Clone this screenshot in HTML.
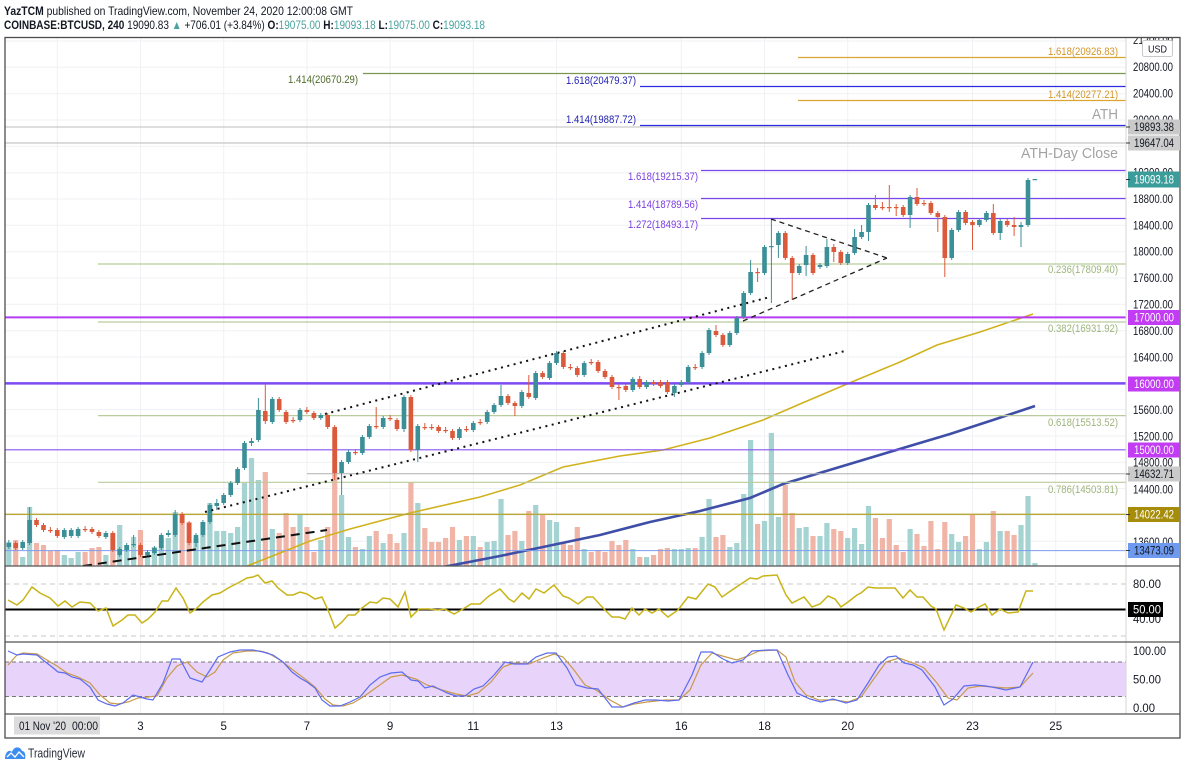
<!DOCTYPE html>
<html><head><meta charset="utf-8">
<style>
html,body{margin:0;padding:0;background:#fff;width:1185px;height:768px;overflow:hidden}
svg{display:block}
text{font-family:"Liberation Sans",Arial,sans-serif}
</style></head>
<body>
<svg id="s" width="1185" height="768" viewBox="0 0 1185 768" xmlns="http://www.w3.org/2000/svg">
<defs>
<clipPath id="cm"><rect x="5" y="37" width="1121" height="529"/></clipPath>
<clipPath id="cax"><rect x="1126" y="38" width="54" height="528"/></clipPath>
</defs>
<rect width="1185" height="768" fill="#fff"/>

<!-- header -->
<text x="4" y="15" font-size="12" fill="#131722" textLength="349" lengthAdjust="spacingAndGlyphs"><tspan font-weight="bold">YazTCM</tspan> published on TradingView.com, November 24, 2020 12:00:08 GMT</text>
<text x="4" y="29" font-size="12" fill="#131722" textLength="481" lengthAdjust="spacingAndGlyphs"><tspan font-weight="bold">COINBASE:BTCUSD, 240</tspan> 19090.83 <tspan fill="#4aa3a0">▲</tspan> +706.01 (+3.84%) <tspan font-weight="bold">O:</tspan><tspan fill="#4aa3a0">19075.00</tspan> <tspan font-weight="bold">H:</tspan><tspan fill="#4aa3a0">19093.18</tspan> <tspan font-weight="bold">L:</tspan><tspan fill="#4aa3a0">19075.00</tspan> <tspan font-weight="bold">C:</tspan><tspan fill="#4aa3a0">19093.18</tspan></text>

<!-- grid -->
<g stroke="#eff1f4" stroke-width="1">
<line x1="57.3" y1="37" x2="57.3" y2="714"/><line x1="140.5" y1="37" x2="140.5" y2="714"/><line x1="223.7" y1="37" x2="223.7" y2="714"/><line x1="306.9" y1="37" x2="306.9" y2="714"/><line x1="390.1" y1="37" x2="390.1" y2="714"/><line x1="473.3" y1="37" x2="473.3" y2="714"/><line x1="556.5" y1="37" x2="556.5" y2="714"/><line x1="681.3" y1="37" x2="681.3" y2="714"/><line x1="764.5" y1="37" x2="764.5" y2="714"/><line x1="847.7" y1="37" x2="847.7" y2="714"/><line x1="972.5" y1="37" x2="972.5" y2="714"/><line x1="1055.7" y1="37" x2="1055.7" y2="714"/>
<line x1="5" y1="41" x2="1126" y2="41"/><line x1="5" y1="67.3" x2="1126" y2="67.3"/><line x1="5" y1="93.7" x2="1126" y2="93.7"/><line x1="5" y1="120" x2="1126" y2="120"/><line x1="5" y1="146.3" x2="1126" y2="146.3"/><line x1="5" y1="172.7" x2="1126" y2="172.7"/><line x1="5" y1="199" x2="1126" y2="199"/><line x1="5" y1="225.3" x2="1126" y2="225.3"/><line x1="5" y1="251.7" x2="1126" y2="251.7"/><line x1="5" y1="278" x2="1126" y2="278"/><line x1="5" y1="304.3" x2="1126" y2="304.3"/><line x1="5" y1="330.7" x2="1126" y2="330.7"/><line x1="5" y1="357" x2="1126" y2="357"/><line x1="5" y1="383.3" x2="1126" y2="383.3"/><line x1="5" y1="409.6" x2="1126" y2="409.6"/><line x1="5" y1="436" x2="1126" y2="436"/><line x1="5" y1="462.3" x2="1126" y2="462.3"/><line x1="5" y1="488.6" x2="1126" y2="488.6"/><line x1="5" y1="515" x2="1126" y2="515"/><line x1="5" y1="541.3" x2="1126" y2="541.3"/>
</g>

<!-- volume -->
<g id="vol" clip-path="url(#cm)"></g>

<!-- moving averages -->
<g clip-path="url(#cm)" fill="none">
<polyline stroke="#d1b21c" stroke-width="1.6" points="247,566 280,553 310,541 350,529 410,513 480,497 520,485 563,467 620,456 663,450 710,438 763,420 800,404 847,384 900,362 937,345 980,332 1033,314"/>
<polyline stroke="#3f4ea6" stroke-width="2.6" points="443,567 500,556 543,547 600,535 650,522 700,511 750,498 783,484 833,469 893,451 950,434 993,420 1035,406"/>
</g>

<!-- horizontal levels -->
<g fill="none">
<line x1="5" y1="127" x2="1126" y2="127" stroke="#bdbdbd" stroke-width="1"/>
<line x1="5" y1="143" x2="1126" y2="143" stroke="#cfcfcf" stroke-width="1.5"/>
<line x1="5" y1="317.4" x2="1126" y2="317.4" stroke="#b43cf2" stroke-width="2"/>
<line x1="5" y1="383.4" x2="1126" y2="383.4" stroke="#7c4af2" stroke-width="2.5"/>
<line x1="5" y1="449.8" x2="1126" y2="449.8" stroke="#8a55f2" stroke-width="1.2"/>
<line x1="307" y1="473.7" x2="1126" y2="473.7" stroke="#b0b0b0" stroke-width="1"/>
<line x1="5" y1="514.3" x2="1126" y2="514.3" stroke="#b9a634" stroke-width="1.3"/>
<line x1="5" y1="550.6" x2="1126" y2="550.6" stroke="#7e9cf0" stroke-width="1"/>
<!-- fibs -->
<line x1="798" y1="57.5" x2="1126" y2="57.5" stroke="#dca432" stroke-width="1.2"/>
<line x1="363" y1="73.5" x2="1126" y2="73.5" stroke="#7b9650" stroke-width="1.2"/>
<line x1="640" y1="86.5" x2="1126" y2="86.5" stroke="#2a2ae0" stroke-width="1.2"/>
<line x1="798" y1="100.5" x2="1126" y2="100.5" stroke="#dca432" stroke-width="1.2"/>
<line x1="640" y1="125.5" x2="1126" y2="125.5" stroke="#2a2ae0" stroke-width="1.2"/>
<line x1="701" y1="170.5" x2="1126" y2="170.5" stroke="#7b44ee" stroke-width="1.2"/>
<line x1="701" y1="198.5" x2="1126" y2="198.5" stroke="#7b44ee" stroke-width="1.2"/>
<line x1="701" y1="218.5" x2="1126" y2="218.5" stroke="#7b44ee" stroke-width="1.2"/>
<line x1="98" y1="264" x2="1126" y2="264" stroke="#b9cc9c" stroke-width="1.2"/>
<line x1="98" y1="322" x2="1126" y2="322" stroke="#b9cc9c" stroke-width="1.2"/>
<line x1="98" y1="415.6" x2="1126" y2="415.6" stroke="#b9cc9c" stroke-width="1.2"/>
<line x1="98" y1="482.3" x2="1126" y2="482.3" stroke="#b9cc9c" stroke-width="1.2"/>
</g>

<!-- candles -->
<g id="candles" clip-path="url(#cm)"></g>

<!-- trend lines -->
<g fill="none" clip-path="url(#cm)">
<line x1="83" y1="566" x2="327" y2="530" stroke="#111" stroke-width="2" stroke-dasharray="9,6"/>
<line x1="325" y1="414" x2="770" y2="297" stroke="#111" stroke-width="2" stroke-dasharray="2,4.5"/>
<line x1="205" y1="512" x2="845" y2="351" stroke="#111" stroke-width="2" stroke-dasharray="2,4.5"/>
<line x1="771" y1="219" x2="887" y2="258" stroke="#222" stroke-width="1.3" stroke-dasharray="5,4"/>
<line x1="743" y1="321" x2="887" y2="258" stroke="#222" stroke-width="1.3" stroke-dasharray="5,4"/>
</g>

<!-- fib labels -->
<g font-size="11">
<text x="1048" y="55" fill="#d4952a" textLength="70" lengthAdjust="spacingAndGlyphs">1.618(20926.83)</text>
<text x="288" y="83" fill="#4f6b2a" textLength="70" lengthAdjust="spacingAndGlyphs">1.414(20670.29)</text>
<text x="566" y="84" fill="#1e1eb0" textLength="70" lengthAdjust="spacingAndGlyphs">1.618(20479.37)</text>
<text x="1048" y="98" fill="#d4952a" textLength="70" lengthAdjust="spacingAndGlyphs">1.414(20277.21)</text>
<text x="566" y="123" fill="#1e1eb0" textLength="70" lengthAdjust="spacingAndGlyphs">1.414(19887.72)</text>
<text x="628" y="180" fill="#7a3ee0" textLength="70" lengthAdjust="spacingAndGlyphs">1.618(19215.37)</text>
<text x="628" y="208" fill="#7a3ee0" textLength="70" lengthAdjust="spacingAndGlyphs">1.414(18789.56)</text>
<text x="628" y="228" fill="#7a3ee0" textLength="70" lengthAdjust="spacingAndGlyphs">1.272(18493.17)</text>
<text x="1048" y="273" fill="#9db57c" textLength="70" lengthAdjust="spacingAndGlyphs">0.236(17809.40)</text>
<text x="1048" y="332" fill="#9db57c" textLength="70" lengthAdjust="spacingAndGlyphs">0.382(16931.92)</text>
<text x="1048" y="426" fill="#9db57c" textLength="70" lengthAdjust="spacingAndGlyphs">0.618(15513.52)</text>
<text x="1048" y="493" fill="#9db57c" textLength="70" lengthAdjust="spacingAndGlyphs">0.786(14503.81)</text>
</g>
<text x="1092" y="119" font-size="15" fill="#a3a3a3" textLength="26" lengthAdjust="spacingAndGlyphs">ATH</text>
<text x="1021" y="158" font-size="15" fill="#a3a3a3" textLength="97" lengthAdjust="spacingAndGlyphs">ATH-Day Close</text>

<!-- RSI pane -->
<g fill="none">
<line x1="5" y1="584" x2="1126" y2="584" stroke="#c8c8c8" stroke-dasharray="5,4"/>
<line x1="5" y1="636" x2="1126" y2="636" stroke="#c8c8c8" stroke-dasharray="5,4"/>
<line x1="5" y1="609.5" x2="1126" y2="609.5" stroke="#000" stroke-width="2"/>
<polyline stroke="#c9b418" stroke-width="1.5" points="8,600 17,605 23,600 32,587 40,593 50,598 58,606 65,601 72,607 80,602 90,603 98,611 106,608 113,626 122,620 128,615 135,615 142,623 148,619 155,612 162,601 168,601 176,588 183,598 190,613 197,608 203,602 212,595 220,593 230,587 238,583 247,578 253,577 258,575 265,583 272,581 278,588 287,595 293,595 300,592 307,594 315,599 322,597 328,610 335,628 342,622 348,615 355,615 362,608 370,602 377,603 383,598 390,599 398,607 405,592 411,617 419,609 429,609 438,610 445,609 454,614 463,609 471,604 480,604 489,596 500,589 509,599 514,602 522,593 529,599 536,589 544,593 554,585 563,596 569,598 578,604 587,597 593,597 603,608 612,617 619,617 625,619 632,608 639,615 645,609 652,613 659,609 668,617 678,610 688,597 696,599 708,584 715,587 722,597 732,590 741,584 750,578 757,579 763,576 777,575 786,595 792,603 804,597 812,607 820,604 828,596 835,599 841,607 848,602 857,595 861,593 868,587 875,588 895,588 903,598 910,590 917,597 923,597 931,606 936,609 944,630 956,605 964,608 971,612 977,608 985,604 992,615 1000,609 1008,613 1018,612 1026,591 1033,591"/>
</g>

<!-- Stoch pane -->
<rect x="5" y="662" width="1121" height="34.5" fill="#e8d3fa"/>
<g fill="none">
<line x1="5" y1="662" x2="1126" y2="662" stroke="#777" stroke-dasharray="4,3"/>
<line x1="5" y1="696.5" x2="1126" y2="696.5" stroke="#777" stroke-dasharray="4,3"/>
<polyline stroke="#c99a4a" stroke-width="1.2" points="8,665 17,655 23,653 37,654 47,660 57,666 67,673 78,677 90,683 100,695 110,703 118,704 128,702 138,698 148,697 157,696 167,678 177,666 187,662 197,672 207,677 215,672 223,660 233,653 247,651 260,651 268,653 280,660 293,670 305,679 315,687 325,699 333,705 343,706 353,703 363,697 377,687 391,677 402,675 416,679 427,685 442,690 456,694 467,696 478,693 491,682 503,667 514,663 529,664 543,658 554,654 563,657 574,670 585,685 596,690 610,700 623,707 634,704 647,702 665,700 679,700 690,690 701,665 712,653 726,657 737,660 748,656 759,651 777,650 786,657 795,682 806,695 819,700 835,700 848,702 861,697 873,680 886,662 899,658 913,663 924,668 937,683 948,698 957,700 968,688 980,686 993,687 1006,688 1020,687 1033,673"/>
<polyline stroke="#5c6cf0" stroke-width="1.2" points="8,651 17,655 23,654 37,655 43,660 52,667 58,672 65,673 72,677 80,679 90,687 98,700 107,704 115,706 123,703 133,695 140,697 147,699 153,700 163,683 172,659 180,659 190,678 202,682 210,670 218,657 230,652 240,650 253,650 263,652 273,655 283,662 292,672 300,678 307,682 315,688 322,700 330,706 340,706 350,702 360,697 370,685 380,677 391,673 402,672 411,680 418,681 425,688 433,686 447,693 456,696 465,696 474,689 483,686 494,675 505,662 514,664 527,664 536,657 547,653 556,653 567,668 576,685 587,688 598,689 612,707 623,707 634,703 645,700 656,700 668,701 679,700 692,675 701,652 712,652 723,659 732,663 743,660 752,651 768,650 777,650 788,675 797,693 810,699 821,702 833,699 846,703 857,700 868,683 879,665 888,657 896,656 904,663 913,665 922,670 935,687 944,705 953,699 964,686 975,685 986,686 997,688 1006,690 1020,687 1033,662"/>
</g>

<!-- frame & separators -->
<g fill="none">
<line x1="1126" y1="37" x2="1126" y2="714" stroke="#d6d6d6" stroke-width="1"/>
<line x1="5" y1="566" x2="1180" y2="566" stroke="#555" stroke-width="1.2"/>
<line x1="5" y1="642" x2="1180" y2="642" stroke="#555" stroke-width="1.2"/>
<line x1="5" y1="714" x2="1180" y2="714" stroke="#555" stroke-width="1.2"/>
<rect x="5" y="37.5" width="1175" height="700.5" stroke="#4d4d4d" stroke-width="1.3"/>
</g>

<!-- price axis labels -->
<g font-size="11.5" fill="#131722" clip-path="url(#cax)">
<text x="1133" y="44" textLength="40" lengthAdjust="spacingAndGlyphs">21200.00</text>
<text x="1133" y="71" textLength="40" lengthAdjust="spacingAndGlyphs">20800.00</text>
<text x="1133" y="97.5" textLength="40" lengthAdjust="spacingAndGlyphs">20400.00</text>
<text x="1133" y="124" textLength="40" lengthAdjust="spacingAndGlyphs">20000.00</text>
<text x="1133" y="176.5" textLength="40" lengthAdjust="spacingAndGlyphs">19200.00</text>
<text x="1133" y="203" textLength="40" lengthAdjust="spacingAndGlyphs">18800.00</text>
<text x="1133" y="229.3" textLength="40" lengthAdjust="spacingAndGlyphs">18400.00</text>
<text x="1133" y="255.7" textLength="40" lengthAdjust="spacingAndGlyphs">18000.00</text>
<text x="1133" y="282" textLength="40" lengthAdjust="spacingAndGlyphs">17600.00</text>
<text x="1133" y="308.3" textLength="40" lengthAdjust="spacingAndGlyphs">17200.00</text>
<text x="1133" y="335" textLength="40" lengthAdjust="spacingAndGlyphs">16800.00</text>
<text x="1133" y="361.5" textLength="40" lengthAdjust="spacingAndGlyphs">16400.00</text>
<text x="1133" y="414" textLength="40" lengthAdjust="spacingAndGlyphs">15600.00</text>
<text x="1133" y="440.5" textLength="40" lengthAdjust="spacingAndGlyphs">15200.00</text>
<text x="1133" y="466.5" textLength="40" lengthAdjust="spacingAndGlyphs">14800.00</text>
<text x="1133" y="493.5" textLength="40" lengthAdjust="spacingAndGlyphs">14400.00</text>
<text x="1133" y="546" textLength="40" lengthAdjust="spacingAndGlyphs">13600.00</text>
</g>
<rect x="1142.5" y="40.5" width="30" height="16" rx="2" fill="#fff" stroke="#c8c8c8"/>
<text x="1148" y="52.5" font-size="10.5" fill="#131722" textLength="19" lengthAdjust="spacingAndGlyphs">USD</text>

<!-- price boxes -->
<g font-size="11.5">
<rect x="1128" y="119.5" width="52" height="15" fill="#c9c9c9"/><text x="1134" y="131" fill="#131722" textLength="40" lengthAdjust="spacingAndGlyphs">19893.38</text>
<rect x="1128" y="135.5" width="52" height="15" fill="#cdcdcd"/><text x="1134" y="147" fill="#131722" textLength="40" lengthAdjust="spacingAndGlyphs">19647.04</text>
<rect x="1128" y="171.5" width="52" height="16" fill="#3b9d9a"/><text x="1134" y="183.5" fill="#fff" textLength="40" lengthAdjust="spacingAndGlyphs">19093.18</text>
<rect x="1128" y="310" width="52" height="15" fill="#c13cf2"/><text x="1134" y="321.5" fill="#fff" textLength="40" lengthAdjust="spacingAndGlyphs">17000.00</text>
<rect x="1128" y="376.5" width="52" height="15" fill="#c13cf2"/><text x="1134" y="388" fill="#fff" textLength="40" lengthAdjust="spacingAndGlyphs">16000.00</text>
<rect x="1128" y="442.5" width="52" height="15" fill="#c13cf2"/><text x="1134" y="454" fill="#fff" textLength="40" lengthAdjust="spacingAndGlyphs">15000.00</text>
<rect x="1128" y="466.5" width="52" height="15" fill="#cacaca"/><text x="1134" y="478" fill="#131722" textLength="40" lengthAdjust="spacingAndGlyphs">14632.71</text>
<rect x="1128" y="507" width="52" height="15" fill="#a68c0b"/><text x="1134" y="518.5" fill="#fff" textLength="40" lengthAdjust="spacingAndGlyphs">14022.42</text>
<rect x="1128" y="543" width="52" height="15" fill="#6d9aee"/><text x="1134" y="554.5" fill="#131722" textLength="40" lengthAdjust="spacingAndGlyphs">13473.09</text>
</g>
<g stroke="#333" stroke-width="1">
<line x1="1126" y1="127" x2="1130" y2="127"/><line x1="1126" y1="143" x2="1130" y2="143"/><line x1="1126" y1="179.5" x2="1130" y2="179.5"/><line x1="1126" y1="474" x2="1130" y2="474"/><line x1="1126" y1="514.5" x2="1130" y2="514.5"/><line x1="1126" y1="550.5" x2="1130" y2="550.5"/>
</g>

<!-- RSI / stoch axis labels -->
<g font-size="11.5" fill="#131722">
<text x="1133" y="588" textLength="28" lengthAdjust="spacingAndGlyphs">80.00</text>
<text x="1133" y="623" textLength="28" lengthAdjust="spacingAndGlyphs">40.00</text>
<rect x="1128" y="602" width="35" height="15" fill="#000"/>
<text x="1133" y="613.5" fill="#fff" textLength="28" lengthAdjust="spacingAndGlyphs">50.00</text>
<text x="1133" y="655" textLength="33" lengthAdjust="spacingAndGlyphs">100.00</text>
<text x="1133" y="683.5" textLength="28" lengthAdjust="spacingAndGlyphs">50.00</text>
<text x="1133" y="712" textLength="22" lengthAdjust="spacingAndGlyphs">0.00</text>
</g>

<!-- time axis -->
<rect x="14" y="716.5" width="86" height="18" fill="#dcdcdc"/>
<g font-size="11.5" fill="#131722">
<text x="19" y="730" textLength="47" lengthAdjust="spacingAndGlyphs">01 Nov '20</text>
<text x="72" y="730" textLength="26" lengthAdjust="spacingAndGlyphs">00:00</text>
</g>
<g font-size="11.5" fill="#131722" text-anchor="middle">
<text x="140.5" y="730">3</text><text x="223.7" y="730">5</text><text x="306.9" y="730">7</text><text x="390.1" y="730">9</text><text x="473.3" y="730">11</text><text x="556.5" y="730">13</text><text x="681.3" y="730">16</text><text x="764.5" y="730">18</text><text x="847.7" y="730">20</text><text x="972.5" y="730">23</text><text x="1055.7" y="730">25</text>
</g>

<!-- TradingView logo -->
<path d="M5 759 C5 752 9 749 12 752 C14 746 20 746 22 751 C25 751 26 755 25 759 Z" fill="#3d8cf0"/>
<path d="M7 757 L11 753 L15 757 L19 752 L24 757" fill="none" stroke="#fff" stroke-width="1.3"/>
<text x="28" y="757.5" font-size="12.5" fill="#2a2e39" textLength="57" lengthAdjust="spacingAndGlyphs">TradingView</text>
</svg>

<script>
(function(){
var D=[[547,543,540,549],[543,548,541,550],[548,542,540,550],[543,520,507,545],[520,525,518,527],[525,530,523,532],[530,530,527,533],[530,536,528,538],[537,530,528,539],[536,530,528,538],
[536,529,527,538],[529,529,526,532],[529,532,527,534],[532,536,530,538],[537,533,531,539],[533,550,531,552],[555,549,547,557],[550,545,543,552],[545,544,535,547],[545,555,543,557],
[555,552,550,557],[553,548,546,555],[548,535,533,550],[535,533,530,537],[535,514,510,537],[514,523,512,525],[523,543,521,545],[543,535,533,547],[535,522,520,537],[522,505,503,524],
[506,503,499,510],[503,495,493,505],[495,483,481,497],[483,469,467,485],[468,443,441,470],[443,441,438,446],[440,410,398,442],[411,421,384,424],[422,399,397,424],[399,410,397,412],
[412,422,410,424],[420,420,417,423],[420,410,408,422],[410,412,407,414],[413,418,411,420],[418,415,413,420],[415,427,413,429],[427,473,425,480],[473,462,460,495],[462,452,450,464],
[452,452,449,455],[453,437,435,455],[437,426,424,439],[426,426,407,429],[427,418,416,429],[418,418,415,421],[420,429,418,431],[429,397,395,432],[397,450,395,452],[450,426,424,462],
[427,427,423,430],[427,427,424,430],[427,431,425,433],[430,430,427,433],[431,438,429,440],[438,429,427,440],[429,429,426,432],[430,423,421,432],[422,422,419,425],[422,412,410,424],
[412,405,403,414],[405,396,385,407],[396,403,394,405],[403,406,401,416],[406,392,390,408],[393,397,375,399],[398,373,371,400],[373,377,371,379],[378,363,361,380],[363,353,351,365],
[353,367,351,369],[367,367,364,370],[368,375,366,377],[375,363,361,377],[362,362,359,365],[362,371,360,373],[371,377,369,379],[377,387,375,389],[387,387,384,400],[386,390,384,392],
[390,379,377,392],[379,387,376,389],[387,382,380,389],[382,384,380,386],[382,386,380,388],[382,392,380,394],[393,386,384,397],[385,382,380,387],[382,367,365,384],[367,368,364,370],
[367,353,351,369],[353,330,328,355],[331,335,325,337],[335,345,333,347],[345,333,331,347],[333,318,316,335],[317,293,291,319],[293,272,260,295],[272,272,268,282],[273,247,245,275],
[247,246,218,303],[245,233,231,258],[233,258,231,260],[258,273,256,300],[273,266,264,275],[265,255,246,276],[255,273,253,275],[267,265,263,269],[266,247,239,268],[247,252,244,262],
[252,263,250,265],[263,254,252,265],[253,237,229,255],[237,232,225,239],[232,205,203,241],[205,208,195,210],[207,207,202,210],[207,207,185,212],[207,207,204,216],[207,215,205,217],
[215,197,195,228],[197,204,188,206],[203,203,200,206],[203,213,201,215],[213,217,211,232],[217,258,215,277],[258,230,228,260],[230,212,210,232],[212,223,210,225],[222,225,220,250],
[225,220,218,227],[220,213,211,222],[213,233,204,235],[233,221,219,240],[221,225,219,227],[225,227,217,236],[227,225,222,247],[225,180,178,227],[180,179,179,180]];
var V=[542,540,557,507,543,545,551,550,555,558,552,552,548,547,555,533,525,545,537,530,555,547,538,538,512,515,522,538,522,503,531,531,533,527,483,458,480,472,529,533,513,527,515,527,552,540,527,430,495,537,547,549,536,531,543,534,543,533,482,503,528,542,542,538,527,540,536,536,547,542,541,499,535,531,541,511,505,514,520,522,543,545,527,549,552,550,552,541,545,540,549,557,557,555,549,548,549,549,548,548,537,499,537,535,547,543,494,440,524,521,433,517,485,513,528,527,536,536,523,529,531,538,528,544,506,518,538,519,545,552,529,534,546,521,549,522,534,542,536,514,549,542,511,531,531,535,525,496,563];
var cs='',vs='';
for(var i=0;i<D.length;i++){
 var x=8.8+i*6.933,d=D[i],o=d[0],c=d[1],h=d[2],l=d[3];
 var up=c<o;
 var col=up?'#3b8f96':'#db5a3b';
 cs+='<line x1="'+x.toFixed(1)+'" y1="'+h+'" x2="'+x.toFixed(1)+'" y2="'+l+'" stroke="'+col+'" stroke-width="1"/>';
 var t=Math.min(o,c),hh=Math.max(1.2,Math.abs(o-c));
 cs+='<rect x="'+(x-2.3).toFixed(1)+'" y="'+t+'" width="4.6" height="'+hh+'" fill="'+col+'"/>';
 var v=V[i];
 vs+='<rect x="'+(x-2.6).toFixed(1)+'" y="'+v+'" width="5.2" height="'+(566-v)+'" fill="'+(up?'#a4d3d2':'#f1b5a8')+'"/>';
}
document.getElementById('candles').innerHTML=cs;
document.getElementById('vol').innerHTML=vs;
})();
</script>
</body></html>
